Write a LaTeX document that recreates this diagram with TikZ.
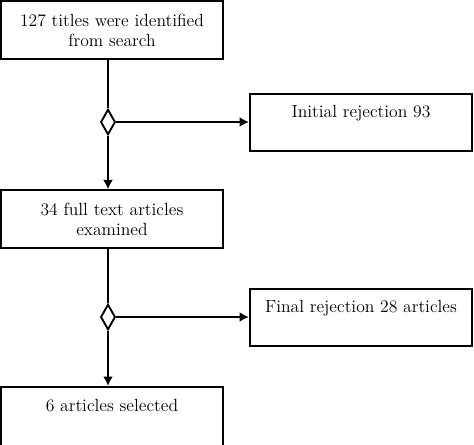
\documentclass[tikz,border=0pt]{standalone}
\usepackage{tikz}
\usetikzlibrary{shapes.geometric,arrows.meta}
\tikzset{>={Latex[length=7pt,width=7.5pt]}}
\tikzset{
    stagebox/.style={draw,line width=1.7pt,minimum width=166.5pt,minimum height=43pt,align=center,inner sep=0pt,font=\fontsize{13.2}{15}\selectfont},
    rejectbox/.style={stagebox,text depth=17pt},
    split/.style={diamond,draw,fill=white,line width=1.4pt,minimum width=11pt,minimum height=19pt,inner sep=0pt,shape aspect=0.6},
    flow/.style={->,line width=1.4pt}
}
\begin{document}
\begin{tikzpicture}[x=0.75pt,y=-0.75pt]
    \clip (0,0) rectangle (474,444);
    \node[stagebox] (titles) at (112,30) {127 titles were identified\\from search};
    \node[split] (d1) at (108,122) {};
    \node[rejectbox] (initial) at (361,122.5) {Initial rejection 93};
    \node[stagebox] (fulltext) at (112,219) {34 full text articles\\examined};
    \node[split] (d2) at (108,317) {};
    \node[rejectbox] (final) at (361,317.5) {Final rejection 28 articles};
    \node[stagebox,minimum height=60pt,text depth=33pt] (selected) at (112,427) {6 articles selected};

    \draw[line width=1.4pt] (titles.south -| d1) -- (d1);
    \draw[flow] (d1) -- (fulltext.north -| d1);
    \draw[flow] (d1) -- (d1 -| initial.west);
    \draw[line width=1.4pt] (fulltext.south -| d2) -- (d2);
    \draw[flow] (d2) -- (selected.north -| d2);
    \draw[flow] (d2) -- (d2 -| final.west);
\end{tikzpicture}
\end{document}
